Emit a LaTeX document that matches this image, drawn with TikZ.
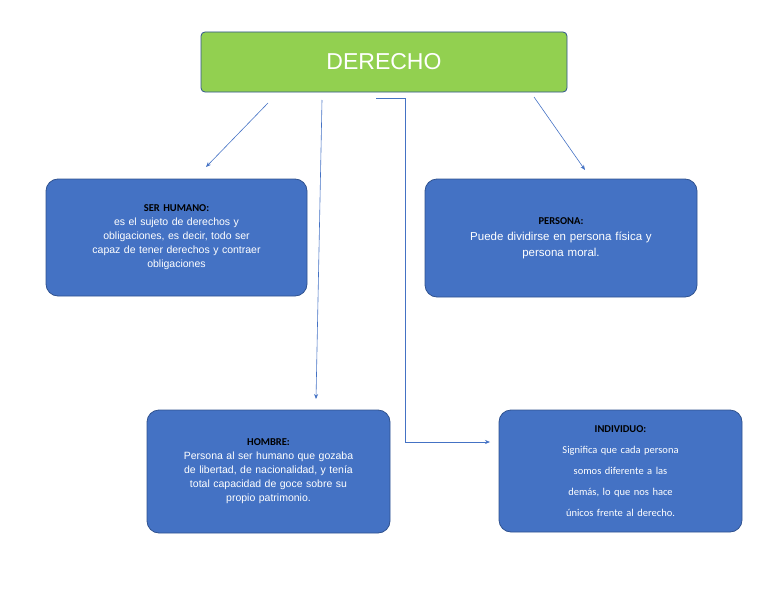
\documentclass[tikz,border=0pt]{standalone}
\usepackage{fontspec}
\usetikzlibrary{arrows.meta}
\setmainfont{Liberation Sans}
\newfontfamily\calfont{Carlito}
\definecolor{bx}{HTML}{4472C4}
\definecolor{bxd}{HTML}{2F528F}
\definecolor{gr}{HTML}{92D050}
\begin{document}
\begin{tikzpicture}[x=1pt,y=-1pt,
  card/.style={draw=bxd,fill=bx,rounded corners=12pt,line width=0.8pt,text=white,align=center,font=\fontsize{10.5}{14}\selectfont,inner sep=2pt},
  arr/.style={draw=bx,line width=0.6pt,-{Stealth[length=5pt,width=4pt]}}]
\useasboundingbox (0,0) rectangle (768,594);
\node[draw=bxd,fill=gr,rounded corners=4pt,line width=0.8pt,minimum width=366pt,minimum height=60pt,text=white,font=\fontsize{23}{26}\selectfont] (d) at (384,62) {DERECHO};
\node[card,minimum width=261pt,minimum height=117pt,text width=240pt] (s) at (176.5,237.5) {{\calfont\bfseries\color{black}SER HUMANO:}\\es el sujeto de derechos y\\obligaciones, es decir, todo ser\\capaz de tener derechos y contraer\\obligaciones};
\node[card,minimum width=272pt,minimum height=118pt,text width=250pt,font=\fontsize{11.5}{16}\selectfont] (p) at (561,238) {{\calfont\bfseries\color{black}\fontsize{10.5}{14}\selectfont PERSONA:}\\Puede dividirse en persona física y\\persona moral.};
\node[card,minimum width=243pt,minimum height=123pt,text width=225pt] (h) at (268.5,471.5) {{\calfont\bfseries\color{black}HOMBRE:}\\Persona al ser humano que gozaba\\de libertad, de nacionalidad, y tenía\\total capacidad de goce sobre su\\propio patrimonio.};
\node[card,minimum width=243pt,minimum height=122pt,text width=225pt,font=\calfont\fontsize{10.5}{21}\selectfont] (i) at (620.5,471) {{\bfseries\color{black}INDIVIDUO:}\\Significa que cada persona\\somos diferente a las\\demás, lo que nos hace\\únicos frente al derecho.};
\coordinate (a1) at (268,103); \coordinate (b1) at (206,167);
\coordinate (a2) at (322,100); \coordinate (b2) at (316,399);
\coordinate (a3) at (376,98); \coordinate (b3) at (490,442);
\coordinate (a4) at (534,97); \coordinate (b4) at (585,170);
\draw[arr] (a1) -- (b1);
\draw[arr] (a2) -- (b2);
\draw[arr] (a3) -- (405,98) -- (405,442) -- (b3);
\draw[arr] (a4) -- (b4);
\end{tikzpicture}
\end{document}
